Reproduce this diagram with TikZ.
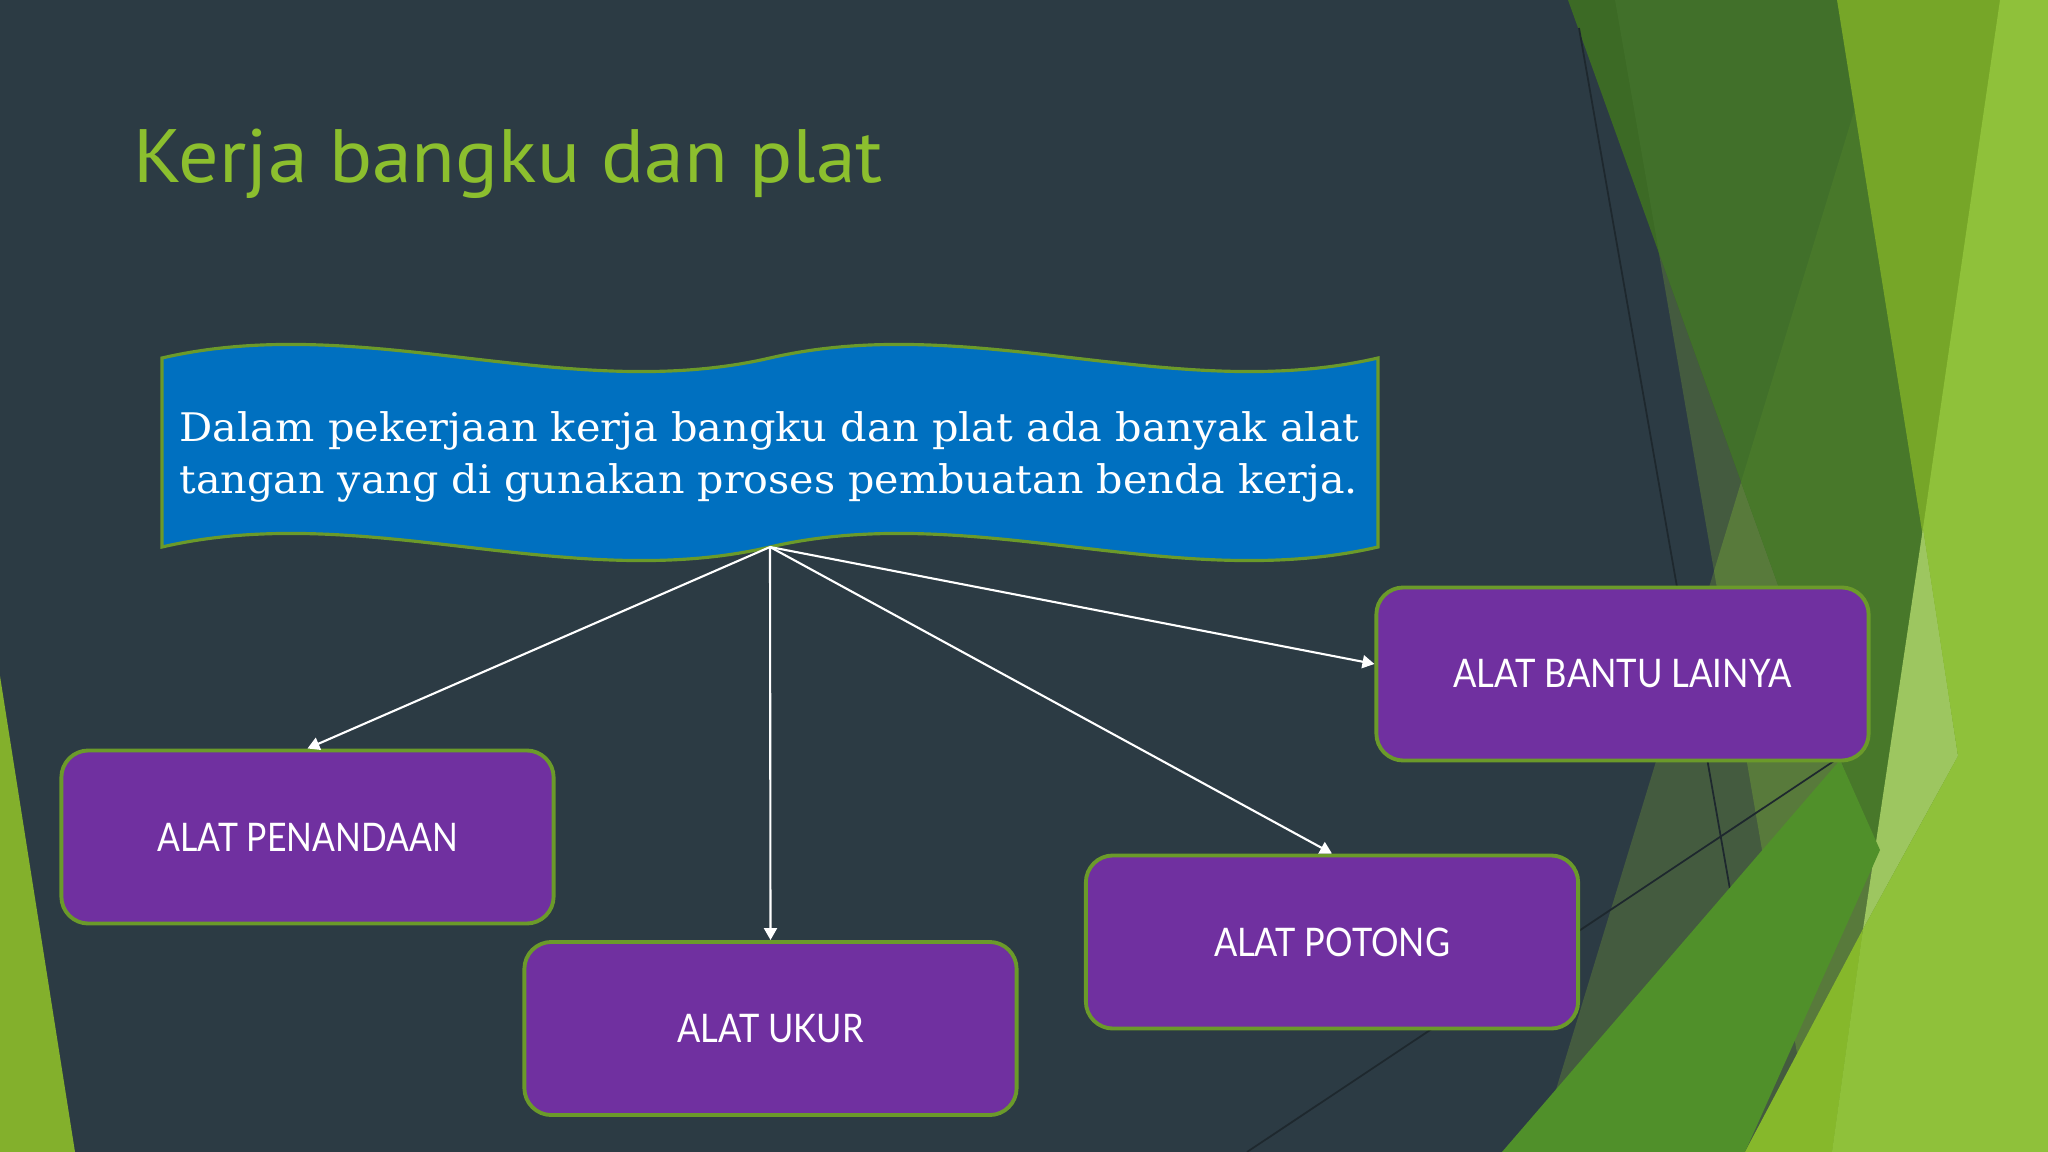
\documentclass[tikz,border=0pt]{standalone}
\usepackage{fontspec}
\usepackage{graphicx}
\setmainfont{DejaVu Serif}
\newfontfamily\titlefont{PT Sans}
\newfontfamily\boxfont{Lato}
\usetikzlibrary{arrows.meta,calc}
\definecolor{slate}{HTML}{2C3B44}
\definecolor{oliveA}{HTML}{445B3F}
\definecolor{oliveB}{HTML}{587A3B}
\definecolor{greenB}{HTML}{3C6A25}
\definecolor{greenBA}{HTML}{41702A}
\definecolor{greenT}{HTML}{48782A}
\definecolor{greenG}{HTML}{76A628}
\definecolor{greenGlow}{HTML}{86B82B}
\definecolor{greenF}{HTML}{9DC660}
\definecolor{greenFG}{HTML}{8FC13A}
\definecolor{greenH}{HTML}{50902A}
\definecolor{sliver}{HTML}{83B02C}
\definecolor{facetline}{HTML}{1E282E}
\definecolor{titlegreen}{HTML}{8CBF2E}
\definecolor{bannerblue}{HTML}{0070C0}
\definecolor{boxpurple}{HTML}{7030A0}
\definecolor{bordergreen}{HTML}{6B9A2A}
\tikzset{
  toolbox/.style={rectangle, rounded corners=7.7pt, minimum width=4.92cm, minimum height=1.73cm,
    fill=boxpurple, draw=bordergreen, line width=1.1pt, text=white, inner sep=0pt,
    font=\boxfont\fontsize{11.2}{13}\selectfont},
  conn/.style={draw=white, line width=0.6pt, -{Triangle[length=3.4pt,width=3.7pt]}},
  facet/.style={line width=0.5pt, draw=facetline}
}
\begin{document}
\begin{tikzpicture}[x=0.01cm,y=-0.01cm]
\useasboundingbox (0,0) rectangle (2048,1152);
\fill[slate] (0,0) rectangle (2048,1152);
% right facets
\fill[oliveA] (1615,0) -- (1714,571) -- (1537,1152) -- (2048,1152) -- (2048,0) -- cycle;
\fill[oliveB] (1888,0) -- (1714,571) -- (1814,1152) -- (2048,1152) -- (2048,0) -- cycle;
\fill[greenB] (1568,0) -- (1982,1152) -- (2048,1152) -- (2048,0) -- cycle;
\fill[greenBA] (1615,0) -- (1659,253) -- (1982,1152) -- (2048,1152) -- (2048,0) -- cycle;
\fill[greenT] (1888,0) -- (1741,482) -- (1982,1152) -- (2048,1152) -- (2048,0) -- cycle;
\draw[facet] (1579,28) -- (1745,975);
\draw[facet] (1247,1152) -- (1840,757);
\fill[greenG] (1837,0) -- (1958,756) -- (1745,1152) -- (2048,1152) -- (2048,0) -- cycle;
\fill[greenGlow] (1863,929) -- (1745,1152) -- (1832,1152) -- cycle;
\fill[greenF] (1923,528) -- (1958,756) -- (1863,929) -- cycle;
\fill[greenFG] (2000,0) -- (1923,528) -- (1958,756) -- (1863,929) -- (1832,1152) -- (2048,1152) -- (2048,0) -- cycle;
\fill[greenH] (1502,1152) -- (1840,760) -- (1880,850) -- (1745,1152) -- cycle;
% left sliver
\fill[sliver] (0,676) -- (75,1152) -- (0,1152) -- cycle;
% title
\node[anchor=base west, inner sep=0pt, text=titlegreen, font=\titlefont\fontsize{21.5}{24}\selectfont] (title) at (133,183) {\resizebox{213.1pt}{\height}{Kerja bangku dan plat}};
% banner
\filldraw[fill=bannerblue, draw=bordergreen, line width=0.9pt]
  (162,358) .. controls (365,311) and (567,405) .. (770,358)
  .. controls (973,311) and (1175,405) .. (1378,358)
  -- (1378,547) .. controls (1175,594) and (973,500) .. (770,547)
  .. controls (567,594) and (365,500) .. (162,547) -- cycle;
\node[anchor=base west, inner sep=0pt, text=white, font=\fontsize{11.2}{14.5}\selectfont] (bannertext) at (179,442)
  {\vtop{\baselineskip=14.51pt\hbox{\resizebox{335.5pt}{\height}{Dalam pekerjaan kerja bangku dan plat ada banyak alat}}\hbox{\resizebox{335pt}{\height}{tangan yang di gunakan proses pembuatan benda kerja.}}}};
\coordinate (src) at (770,547);
% boxes
\node[toolbox] (pen) at (307.5,837) {\resizebox{85.4pt}{\height}{ALAT PENANDAAN}};
\node[toolbox] (ukur) at (770.5,1028.5) {\resizebox{52.9pt}{\height}{ALAT UKUR}};
\node[toolbox] (pot) at (1332,942) {\resizebox{67.1pt}{\height}{ALAT POTONG}};
\node[toolbox] (bantu) at (1622.5,674) {\resizebox{96.2pt}{\height}{ALAT BANTU LAINYA}};
% connectors
\draw[conn] (src) -- (pen.north);
\draw[conn] (src) -- (ukur.north);
\draw[conn] (src) -- (pot.north);
\draw[conn] (src) -- ($(bantu.west)+(0,-10)$);
\end{tikzpicture}
\end{document}
